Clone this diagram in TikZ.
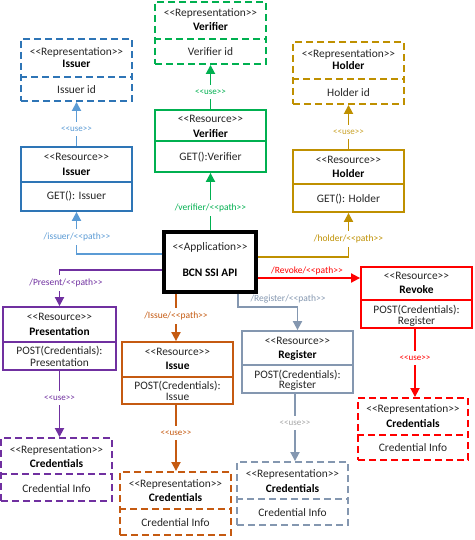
\documentclass[tikz,border=0pt]{standalone}
\usepackage{fontspec}
\newfontfamily\cfont{Carlito}
\usetikzlibrary{fit,arrows.meta}
\definecolor{issdark}{HTML}{2E75B6}
\definecolor{isslight}{HTML}{5B9BD5}
\definecolor{vergreen}{HTML}{00B050}
\definecolor{holdgold}{HTML}{BF9000}
\definecolor{holdlab}{HTML}{C9A227}
\definecolor{prespurple}{HTML}{7030A0}
\definecolor{issueorange}{HTML}{C55A11}
\definecolor{reggray}{HTML}{8497B0}
\definecolor{reglab}{HTML}{A6A6A6}
\definecolor{revred}{HTML}{FF0000}
\newcommand\gsl{<\kern0pt<}
\newcommand\gsr{>\kern0pt>}
\newcommand\umlbox[8]{%
  \node[#2=#3, fit={(#4,#5) (#6,#7)}] (#1) {};
  \draw[#2=#3] (#1.west |- 0,#8) -- (#1.east |- 0,#8);
}
\tikzset{
  res/.style={draw=#1, line width=1.8pt, inner sep=0pt},
  rep/.style={draw=#1, line width=1.9pt, dash pattern=on 7pt off 4pt, inner sep=0pt},
  api/.style={draw=black, line width=3.2pt, inner sep=0pt},
  txt/.style={font=\cfont\fontsize{11.4}{13}\selectfont, inner sep=0pt, text=black!85},
  txtb/.style={font=\cfont\bfseries\fontsize{11.4}{13}\selectfont, inner sep=0pt, text=black},
  pathlab/.style={font=\cfont\fontsize{9.5}{11}\selectfont, text=#1, fill=white, inner xsep=1pt, inner ysep=4pt},
  uselab/.style={font=\cfont\fontsize{9}{11}\selectfont, text=#1, fill=white, inner xsep=1pt, inner ysep=5pt},
  conn/.style={draw=#1, line width=1.8pt, -{Triangle[length=9pt,width=9pt]}},
}
\begin{document}
\begin{tikzpicture}[x=1pt,y=-1pt]
\useasboundingbox[fill=white] (0,0) rectangle (474,540);

% ---------- Issuer ----------
\umlbox{issrep}{rep}{issdark}{21}{39}{132}{101}{77}
\node[txt]  (issrep1) at (76.5,52) {\gsl Representation\gsr};
\node[txtb] (issrep2) at (76.5,64) {Issuer};
\node[txt]  (issrep3) at (76.5,90) {Issuer id};
\umlbox{issres}{res}{issdark}{21}{147}{132}{211}{182}
\node[txt]  (issres1) at (76.5,157) {\gsl Resource\gsr};
\node[txtb] (issres2) at (76.5,172) {Issuer};
\node[txt]  (issres3) at (76.5,196) {GET(): Issuer};

% ---------- Verifier ----------
\umlbox{verrep}{rep}{vergreen}{155}{2}{266}{64}{39}
\node[txt]  (verrep1) at (210.5,13) {\gsl Representation\gsr};
\node[txtb] (verrep2) at (210.5,27) {Verifier};
\node[txt]  (verrep3) at (210.5,52) {Verifier id};
\umlbox{verres}{res}{vergreen}{155}{110}{266}{172}{141}
\node[txt]  (verres1) at (210.5,119) {\gsl Resource\gsr};
\node[txtb] (verres2) at (210.5,134) {Verifier};
\node[txt]  (verres3) at (210.5,157) {GET():Verifier};

% ---------- Holder ----------
\umlbox{holrep}{rep}{holdgold}{293}{42}{404}{104}{79}
\node[txt]  (holrep1) at (348.5,54) {\gsl Representation\gsr};
\node[txtb] (holrep2) at (348.5,66) {Holder};
\node[txt]  (holrep3) at (348.5,93) {Holder id};
\umlbox{holres}{res}{holdgold}{293}{150}{404}{212}{184}
\node[txt]  (holres1) at (348.5,160) {\gsl Resource\gsr};
\node[txtb] (holres2) at (348.5,174) {Holder};
\node[txt]  (holres3) at (348.5,199) {GET(): Holder};

% ---------- API ----------
\node[api, fit={(164,232) (256,292)}] (api) {};
\node[txt]  (api1) at (210,247) {\gsl Application\gsr};
\node[txtb] (api2) at (210,273) {BCN SSI API};

% ---------- Presentation ----------
\umlbox{preres}{res}{prespurple}{3}{307}{116}{370}{342}
\node[txt]  (preres1) at (59.5,317) {\gsl Resource\gsr};
\node[txtb] (preres2) at (59.5,332) {Presentation};
\node[txt]  (preres3) at (59.5,351) {POST(Credentials):};
\node[txt]  (preres4) at (59.5,363) {Presentation};
\umlbox{prerep}{rep}{prespurple}{1}{438}{112}{501}{474}
\node[txt]  (prerep1) at (56.5,450) {\gsl Representation\gsr};
\node[txtb] (prerep2) at (56.5,464) {Credentials};
\node[txt]  (prerep3) at (56.5,489) {Credential Info};

% ---------- Issue ----------
\umlbox{isures}{res}{issueorange}{122}{342}{233}{404}{377}
\node[txt]  (isures1) at (177.5,352) {\gsl Resource\gsr};
\node[txtb] (isures2) at (177.5,366) {Issue};
\node[txt]  (isures3) at (177.5,386) {POST(Credentials):};
\node[txt]  (isures4) at (177.5,397) {Issue};
\umlbox{isurep}{rep}{issueorange}{120}{472}{231}{535}{509}
\node[txt]  (isurep1) at (175.5,484) {\gsl Representation\gsr};
\node[txtb] (isurep2) at (175.5,498) {Credentials};
\node[txt]  (isurep3) at (175.5,523) {Credential Info};

% ---------- Register ----------
\umlbox{regres}{res}{reggray}{242}{331}{353}{393}{365}
\node[txt]  (regres1) at (297.5,341) {\gsl Resource\gsr};
\node[txtb] (regres2) at (297.5,355) {Register};
\node[txt]  (regres3) at (297.5,375) {POST(Credentials):};
\node[txt]  (regres4) at (297.5,386) {Register};
\umlbox{regrep}{rep}{reggray}{237}{462}{348}{525}{499}
\node[txt]  (regrep1) at (292.5,474) {\gsl Representation\gsr};
\node[txtb] (regrep2) at (292.5,489) {Credentials};
\node[txt]  (regrep3) at (292.5,513) {Credential Info};

% ---------- Revoke ----------
\umlbox{revres}{res}{revred}{361}{267}{472}{328}{300}
\node[txt]  (revres1) at (416.5,276) {\gsl Resource\gsr};
\node[txtb] (revres2) at (416.5,290) {Revoke};
\node[txt]  (revres3) at (416.5,310) {POST(Credentials):};
\node[txt]  (revres4) at (416.5,322) {Register};
\umlbox{revrep}{rep}{revred}{358}{398}{468}{460}{435}
\node[txt]  (revrep1) at (413,409) {\gsl Representation\gsr};
\node[txtb] (revrep2) at (413,424) {Credentials};
\node[txt]  (revrep3) at (413,448) {Credential Info};

% ---------- connectors: API to resources ----------
\draw[conn=isslight] (api.west |- 0,254) -| (issres.south);
\node[pathlab=isslight] (issp) at (77,237) {/issuer/\gsl path\gsr};

\draw[conn=vergreen] (api.north -| verres.south) -- (verres.south);
\node[pathlab=vergreen] (verp) at (210.5,208) {/verifier/\gsl path\gsr};

\draw[conn=holdgold] (api.east |- 0,257) -| (holres.south);
\node[pathlab=holdgold] (holp) at (348.5,239) {/holder/\gsl path\gsr};

\draw[conn=prespurple] (api.west |- 0,270) -| (preres.north);
\node[pathlab=prespurple] (prep) at (66,283) {/Present/\gsl path\gsr};

\draw[conn=issueorange] (api.south -| 176,0) -- (176,0 |- isures.north);
\node[pathlab=issueorange] (isup) at (176,316) {/Issue/\gsl path\gsr};

\coordinate (regbend) at (238,307);
\draw[conn=reggray] (api.south -| regbend) -- (regbend) -| (regres.north);
\node[pathlab=reggray, fill=none] (regp) at (288,299) {/Register/\gsl path\gsr};

\draw[conn=revred] (api.east |- 0,278) -- (revres.west |- 0,278);
\node[pathlab=revred, fill=none] (revp) at (307,271) {/Revoke/\gsl path\gsr};

% ---------- use connectors ----------
\draw[conn=isslight] (issres.north) -- (issrep.south);
\node[uselab=isslight] (issu) at (76.5,129) {\gsl use\gsr};

\draw[conn=vergreen] (verres.north) -- (verrep.south);
\node[uselab=vergreen] (veru) at (210.5,92) {\gsl use\gsr};

\draw[conn=holdgold] (holres.north) -- (holrep.south);
\node[uselab=holdlab] (holu) at (348.5,132) {\gsl use\gsr};

\draw[conn=prespurple] (preres.south) -- (preres.south |- prerep.north);
\node[uselab=prespurple] (preu) at (59.5,398) {\gsl use\gsr};

\draw[conn=issueorange] (isures.south -| 176,0) -- (176,0 |- isurep.north);
\node[uselab=issueorange] (isuu) at (176,433) {\gsl use\gsr};

\draw[conn=reggray] (regres.south -| 295,0) -- (295,0 |- regrep.north);
\node[uselab=reglab] (regu) at (295,423) {\gsl use\gsr};

\draw[conn=revred] (revres.south -| 415,0) -- (415,0 |- revrep.north);
\node[uselab=revred] (revu) at (415,358) {\gsl use\gsr};
\end{tikzpicture}
\end{document}
